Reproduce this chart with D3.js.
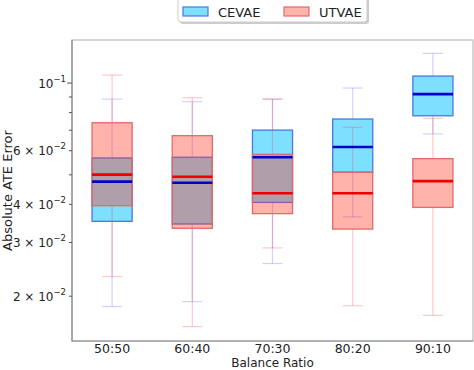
<!DOCTYPE html>
<html>
<head>
<meta charset="utf-8">
<script src="https://cdn.jsdelivr.net/npm/d3@7"></script>
<style>
  body { margin: 0; background: #fff; }
  svg { font-family: "DejaVu Sans", sans-serif; }
</style>
</head>
<body>
<svg id="chart" width="474" height="370"></svg>
<script>
const ratios = ['50:50', '60:40', '70:30', '80:20', '90:10']

// [low whisker, q1, median, q3, high whisker]
const cevae = [
    [0.0185, 0.0352, 0.0475, 0.0568, 0.0886],
    [0.0192, 0.0345, 0.0471, 0.0571, 0.0869],
    [0.0256, 0.0406, 0.0571, 0.0701, 0.0884],
    [0.0364, 0.0510, 0.0617, 0.0762, 0.0963],
    [0.0681, 0.0781, 0.0920, 0.1054, 0.1251]
]
const utvae = [
    [0.0232, 0.0396, 0.0501, 0.0741, 0.1062],
    [0.0159, 0.0334, 0.0493, 0.0672, 0.0895],
    [0.0288, 0.0373, 0.0435, 0.0584, 0.0888],
    [0.0186, 0.0332, 0.0435, 0.0510, 0.0716],
    [0.0173, 0.0391, 0.0477, 0.0565, 0.0766]
]

const yMajor = [0.1]
const yMinor = [0.02, 0.03, 0.04, 0.05, 0.06, 0.07, 0.08, 0.09]
const yLabels = [
    { v: 0.1, pre: '10', exp: '\u22121' },
    { v: 0.06, pre: '6 \u00d7 10', exp: '\u22122' },
    { v: 0.04, pre: '4 \u00d7 10', exp: '\u22122' },
    { v: 0.03, pre: '3 \u00d7 10', exp: '\u22122' },
    { v: 0.02, pre: '2 \u00d7 10', exp: '\u22122' }
]

const width = 474
const height = 370
const margin = { top: 40, right: 1, bottom: 29, left: 72 }

const svg = d3.select('#chart')

const x = d3.scaleLinear().domain([0.5, 5.5]).range([margin.left, width - margin.right])
const y = d3.scaleLog().domain([0.01426, 0.1384]).range([height - margin.bottom, margin.top])

const boxW = 0.5
const capW = 0.25

const series = [
    { name: 'CEVAE', data: cevae, fill: 'rgba(0,191,255,0.5)', edge: '#4a78e6', whisk: 'rgba(70,70,255,0.25)', med: '#0000cc' },
    { name: 'UTVAE', data: utvae, fill: 'rgba(255,50,25,0.37)', edge: '#e26a6a', whisk: 'rgba(255,40,60,0.25)', med: '#ee0000' }
]

// frame
svg.append('rect')
    .attr('x', margin.left).attr('y', margin.top)
    .attr('width', width - margin.right - margin.left)
    .attr('height', height - margin.bottom - margin.top)
    .attr('fill', 'none').attr('stroke', '#bbb').attr('stroke-width', 1.2)
svg.append('path')
    .attr('d', `M${margin.left},${margin.top}V${height - margin.bottom}H${width - margin.right}`)
    .attr('fill', 'none').attr('stroke', '#888').attr('stroke-width', 1.2)

const plot = svg.append('g')

series.forEach(s => {
    const g = plot.append('g')
    s.data.forEach((d, i) => {
        const cx = x(i + 1)
        // whiskers
        g.append('line')
            .attr('x1', cx).attr('x2', cx)
            .attr('y1', y(d[0])).attr('y2', y(d[1]))
            .attr('stroke', s.whisk).attr('stroke-width', 1.2)
        g.append('line')
            .attr('x1', cx).attr('x2', cx)
            .attr('y1', y(d[3])).attr('y2', y(d[4]))
            .attr('stroke', s.whisk).attr('stroke-width', 1.2)
        // caps
        ;[d[0], d[4]].forEach(v => {
            g.append('line')
                .attr('x1', x(i + 1 - capW / 2)).attr('x2', x(i + 1 + capW / 2))
                .attr('y1', y(v)).attr('y2', y(v))
                .attr('stroke', s.whisk).attr('stroke-width', 1.2)
        })
        // box
        g.append('rect')
            .attr('x', x(i + 1 - boxW / 2))
            .attr('y', y(d[3]))
            .attr('width', x(i + 1 + boxW / 2) - x(i + 1 - boxW / 2))
            .attr('height', y(d[1]) - y(d[3]))
            .attr('fill', s.fill)
            .attr('stroke', s.edge).attr('stroke-width', 1.3)
    })
})

// medians on top
series.forEach(s => {
    plot.append('g').selectAll('line')
        .data(s.data)
        .join('line')
        .attr('x1', (d, i) => x(i + 1 - boxW / 2))
        .attr('x2', (d, i) => x(i + 1 + boxW / 2))
        .attr('y1', d => y(d[2]))
        .attr('y2', d => y(d[2]))
        .attr('stroke', s.med).attr('stroke-width', 2.6)
})

// y axis ticks
const axisY = svg.append('g')
axisY.selectAll('.major')
    .data(yMajor)
    .join('line')
    .attr('x1', margin.left - 5).attr('x2', margin.left)
    .attr('y1', d => y(d)).attr('y2', d => y(d))
    .attr('stroke', '#555')
axisY.selectAll('.minor')
    .data(yMinor)
    .join('line')
    .attr('x1', margin.left - 3).attr('x2', margin.left)
    .attr('y1', d => y(d)).attr('y2', d => y(d))
    .attr('stroke', '#555')

const labs = axisY.selectAll('text')
    .data(yLabels)
    .join('text')
    .attr('x', margin.left - 6)
    .attr('y', d => y(d.v) + 4.5)
    .attr('text-anchor', 'end')
    .attr('font-size', 12)
    .attr('fill', '#222')
labs.append('tspan').text(d => d.pre)
labs.append('tspan')
    .attr('font-size', 8.5)
    .attr('dy', -6)
    .text(d => d.exp)

// x axis labels (no visible tick marks in the original)
const axisX = svg.append('g')
axisX.selectAll('text')
    .data(ratios)
    .join('text')
    .attr('x', (d, i) => x(i + 1))
    .attr('y', height - margin.bottom + 12)
    .attr('text-anchor', 'middle')
    .attr('font-size', 12.5)
    .attr('fill', '#222')
    .text(d => d)

// axis titles
svg.append('text')
    .attr('x', (margin.left + width - margin.right) / 2)
    .attr('y', height - 3)
    .attr('text-anchor', 'middle')
    .attr('font-size', 12)
    .attr('fill', '#222')
    .text('Balance Ratio')
svg.append('text')
    .attr('transform', `translate(12,${(margin.top + height - margin.bottom) / 2}) rotate(-90)`)
    .attr('text-anchor', 'middle')
    .attr('font-size', 13)
    .attr('fill', '#222')
    .text('Absolute ATE Error')

// legend
const legend = svg.append('g')
legend.append('rect')
    .attr('x', 180).attr('y', -6).attr('width', 189).attr('height', 30)
    .attr('rx', 3).attr('fill', '#ccc')
legend.append('rect')
    .attr('x', 178).attr('y', -8).attr('width', 189).attr('height', 30)
    .attr('rx', 3).attr('fill', '#fff').attr('stroke', '#ccc')
const items = legend.selectAll('g.item')
    .data(series)
    .join('g')
    .attr('transform', (d, i) => `translate(${183 + i * 101},0)`)
items.append('rect')
    .attr('x', 0).attr('y', 7).attr('width', 25).attr('height', 9)
    .attr('fill', d => d.fill).attr('stroke', d => d.edge).attr('stroke-width', 1.2)
items.append('text')
    .attr('x', 35).attr('y', 16.5)
    .attr('font-size', 13)
    .attr('fill', '#222')
    .text(d => d.name)
</script>
</body>
</html>
